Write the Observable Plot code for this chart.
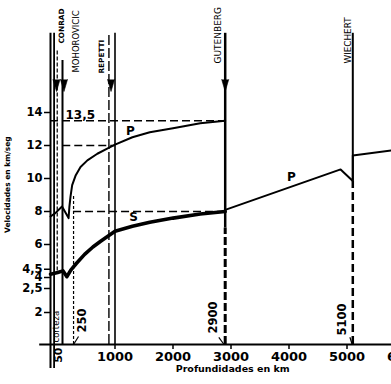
<!DOCTYPE html>
<html>
<head>
<meta charset="utf-8">
<script src="https://cdn.jsdelivr.net/npm/d3@7"></script>
<script src="https://cdn.jsdelivr.net/npm/@observablehq/plot@0.6"></script>
<style>
  html, body { margin: 0; padding: 0; background: #fff; }
  #chart svg { display: block; }
</style>
</head>
<body>
<div id="chart"></div>
<script>
// ---- data (depth in km, velocity in km/s) ----
const xTicks = [1000, 2000, 3000, 4000, 5000, 6000];
const yTicks = [2, 2.5, 4, 4.5, 6, 8, 10, 12, 14];

const pUpperDepth = [0, 20, 48, 160, 175, 195, 225, 290, 376, 500, 680, 850, 1000, 1300, 1600, 2000, 2470, 2900];
const pUpperVel   = [7.7, 7.9, 8.3, 7.6, 8.3, 8.9, 9.6, 10.2, 10.7, 11.1, 11.5, 11.8, 12.05, 12.5, 12.8, 13.05, 13.35, 13.5];

const pLowerDepth = [2900, 4890, 5100, 5100, 5770, 6000];
const pLowerVel   = [8.1, 10.55, 9.85, 11.4, 11.7, 11.8];

const sDepth = [0, 30, 60, 130, 200, 300, 450, 600, 740, 870, 1000, 1300, 1600, 2000, 2470, 2900];
const sVel   = [4.2, 4.3, 4.4, 4.05, 4.45, 4.85, 5.4, 5.85, 6.2, 6.5, 6.8, 7.1, 7.35, 7.6, 7.85, 8.0];

const boundaryNames  = ["CONRAD", "MOHOROVICIC", "REPETTI", "GUTENBERG", "WIECHERT"];
const boundaryDepths = [15, 50, 1000, 2900, 5100];
const arrowDepths    = [25, 77, 928, 2900];
const depthLabels    = ["250", "2900", "5100"];
const depthLabelKm   = [250, 2900, 5100];
const refVelocities  = [13.5, 12, 8];

const rows = (d, v) => d.map((x, i) => ({depth: x, v: v[i]}));
const pUpper = rows(pUpperDepth, pUpperVel);
const pLower = rows(pLowerDepth, pLowerVel);
const sWave  = rows(sDepth, sVel);

const lineTop = 18.8;
const dash = "8,4";
const topLabel = (i, dx, dy, size, weight) =>
  Plot.text([boundaryNames[i]], {
    x: boundaryDepths[i], frameAnchor: "top", dx, dy, rotate: -90,
    textAnchor: "start", lineAnchor: "middle", fontSize: size, fontWeight: weight
  });
const depthLabel = (i, dx, dy) =>
  Plot.text([depthLabels[i]], {
    x: depthLabelKm[i], y: 0, dx, dy, rotate: -90,
    textAnchor: "start", lineAnchor: "middle", fontSize: 11.5, fontWeight: "bold"
  });

const chart = Plot.plot({
  width: 391,
  height: 384,
  marginLeft: 50,
  marginBottom: 40,
  marginTop: 33,
  marginRight: 0,
  style: {fontFamily: "'DejaVu Sans', sans-serif", background: "#fff", color: "#000"},
  x: {type: "linear", domain: [0, 50, 1000, 6000], range: [50, 62, 114.5, 404.5]},
  y: {type: "linear", domain: [0, 2, 2.5, 4, 14], range: [344, 312, 288, 277, 112]},
  marks: [
    // dashed reference velocities
    Plot.ruleY([refVelocities[0]], {x1: 0, x2: 2900, strokeDasharray: dash, strokeWidth: 1.3}),
    Plot.ruleY([refVelocities[1]], {x1: 55, x2: 1000, strokeDasharray: dash, strokeWidth: 1.3}),
    Plot.ruleY([refVelocities[2]], {x1: 250, x2: 2900, strokeDasharray: dash, strokeWidth: 1.3}),

    // axis lines
    Plot.ruleY([0], {x1: -45, x2: 6000, strokeWidth: 2}),
    Plot.ruleX([0], {y1: -1.5, y2: lineTop, strokeWidth: 2}),

    // discontinuities
    Plot.ruleX([boundaryDepths[0]], {y1: -1.5, y2: lineTop, strokeWidth: 1.8}),
    Plot.ruleX([28], {y1: 4.4, y2: 17.8, strokeDasharray: "4,2", strokeWidth: 1.2}),
    Plot.ruleX([boundaryDepths[1]], {y1: 0, y2: 17.15, strokeWidth: 2}),
    Plot.ruleX([250], {y1: 0, y2: 9, strokeDasharray: "3,2", strokeWidth: 1.2}),
    Plot.ruleX([890], {y1: 0, y2: lineTop, strokeDasharray: "10,3", strokeWidth: 1.4}),
    Plot.ruleX([boundaryDepths[2]], {y1: 0, y2: lineTop, strokeWidth: 1.6}),
    Plot.ruleX([boundaryDepths[3]], {y1: 7, y2: lineTop, strokeWidth: 2.5}),
    Plot.ruleX([boundaryDepths[3]], {y1: 0, y2: 7, strokeWidth: 3, strokeDasharray: "8,3"}),
    Plot.ruleX([boundaryDepths[4]], {y1: 9.85, y2: lineTop, strokeWidth: 2}),
    Plot.ruleX([boundaryDepths[4]], {y1: 0, y2: 9.85, strokeWidth: 2.5, strokeDasharray: "8,4"}),

    // arrowheads
    Plot.vector(arrowDepths, {x: d => d, y: 16.0, length: 12, r: 3.5, rotate: 180,
      shape: "spike", anchor: "start", fill: "black", stroke: "black", strokeWidth: 0.6}),

    // wave velocity curves
    Plot.line(pUpper, {x: "depth", y: "v", strokeWidth: 2, strokeLinejoin: "round"}),
    Plot.line(pLower, {x: "depth", y: "v", strokeWidth: 2, strokeLinejoin: "round"}),
    Plot.line(sWave,  {x: "depth", y: "v", strokeWidth: 3.6, strokeLinejoin: "round"}),

    // axes
    Plot.axisX(xTicks, {tickSize: 5, tickPadding: 2, fontSize: 13, fontWeight: "bold",
      strokeWidth: 1.5, label: null, tickFormat: d => String(d)}),
    Plot.axisY(yTicks, {tickSize: 6, tickPadding: 2, fontSize: 11.5, fontWeight: "bold",
      strokeWidth: 1.5, label: null, tickFormat: d => String(d).replace(".", ",")}),

    // axis titles
    Plot.text(["Profundidades en km"], {frameAnchor: "bottom", x: 3030, dy: 27,
      fontSize: 9.5, fontWeight: "bold"}),
    Plot.text(["Velocidades en km/seg"], {frameAnchor: "left", y: 6.7, dx: -43, rotate: -90,
      fontSize: 7.5, fontWeight: "bold"}),

    // boundary names
    topLabel(0, 7.4, 10, 7.3, "bold"),
    topLabel(1, 14, 39, 8.5, "normal"),
    topLabel(2, -13.5, 40, 7.3, "bold"),
    topLabel(3, -7, 30, 9, "normal"),
    topLabel(4, -5, 30, 8.8, "normal"),

    // curve labels
    Plot.text(["13,5"], {x: 104, y: 13.5, dy: -2, textAnchor: "start", lineAnchor: "bottom",
      fontSize: 12, fontWeight: "bold"}),
    Plot.text(["P"], {x: 1267, y: 12.85, fontSize: 12, fontWeight: "bold"}),
    Plot.text(["S"], {x: 1319, y: 7.64, fontSize: 12, fontWeight: "bold"}),
    Plot.text(["P"], {x: 4043, y: 10.06, fontSize: 12, fontWeight: "bold"}),

    // depth annotations
    Plot.text(["corteza"], {x: 25, y: 0, dy: -2, rotate: -90, textAnchor: "start",
      lineAnchor: "middle", fontSize: 8.5}),
    Plot.text(["50"], {x: 35, y: 0, dy: 3, rotate: -90, textAnchor: "end",
      lineAnchor: "middle", fontSize: 11, fontWeight: "bold"}),
    depthLabel(0, 8.3, -12),
    depthLabel(1, -11.7, -11),
    depthLabel(2, -10, -9),
    Plot.link([0], {x1: 340, y1: 0.5, x2: 250, y2: 0, strokeWidth: 1.2}),
    Plot.link([0], {x1: 2790, y1: 0.45, x2: 2880, y2: 0, strokeWidth: 1.2}),
    Plot.link([0], {x1: 5050, y1: 0.45, x2: 5090, y2: 0, strokeWidth: 1.2})
  ]
});
document.getElementById("chart").appendChild(chart);
</script>
</body>
</html>
